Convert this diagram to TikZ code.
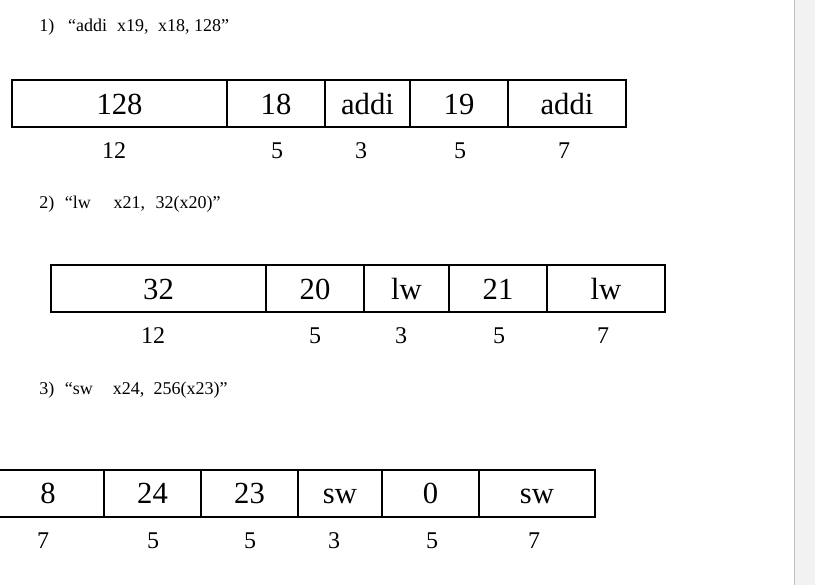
\documentclass[tikz,border=0pt]{standalone}
\usepackage{fontspec}
\setmainfont{Liberation Serif}
\usetikzlibrary{positioning}

\begin{document}
\begin{tikzpicture}[x=0.75pt, y=-0.75pt,
        field/.style={draw, rectangle, line width=1.5pt, inner sep=0pt, outer sep=0pt, minimum height=35.25pt, text height=15.8pt, text depth=0pt, font=\fontsize{23}{27}\selectfont},
        wd/.style={minimum width=#1*0.75pt},
        bits/.style={inner sep=0pt, font=\fontsize{18}{21}\selectfont},
        title/.style={anchor=base west, inner sep=0pt, font=\fontsize{13.5}{16}\selectfont}]
        \useasboundingbox (0,0) rectangle (815,585);
        % Side bar
        \fill[black!5] (794,0) rectangle (815,585);
        \draw[black!25, line width=0.75pt] (794.5,0) -- (794.5,585);

        % 1) addi
        \node (t1) [title] at (39,32) {1)\hspace{10.5pt}“addi\hspace{7.5pt}x19,\hspace{7pt}x18, 128”};
        \node (a1) [field, wd=215, anchor=west] at (12,103.5) {128};
        \node (a2) [field, wd=98, right=0pt of a1] {18};
        \node (a3) [field, wd=85, right=0pt of a2] {addi};
        \node (a4) [field, wd=98, right=0pt of a3] {19};
        \node (a5) [field, wd=118, right=0pt of a4] {addi};
        % bit widths
        \node (a1b) [bits] at (114,150.5) {12};
        \node (a2b) [bits] at (277,150.5) {5};
        \node (a3b) [bits] at (361,150.5) {3};
        \node (a4b) [bits] at (460,150.5) {5};
        \node (a5b) [bits] at (564,150.5) {7};

        % 2) lw
        \node (t2) [title] at (39,209) {2)\hspace{8pt}“lw\hspace{17pt}x21,\hspace{8pt}32(x20)”};
        \node (b1) [field, wd=215, anchor=west] at (51,288.5) {32};
        \node (b2) [field, wd=98, right=0pt of b1] {20};
        \node (b3) [field, wd=85, right=0pt of b2] {lw};
        \node (b4) [field, wd=98, right=0pt of b3] {21};
        \node (b5) [field, wd=118, right=0pt of b4] {lw};
        % bit widths
        \node (b1b) [bits] at (153,336) {12};
        \node (b2b) [bits] at (315,336) {5};
        \node (b3b) [bits] at (401,336) {3};
        \node (b4b) [bits] at (499,336) {5};
        \node (b5b) [bits] at (603,336) {7};

        % 3) sw
        \node (t3) [title] at (39,394) {3)\hspace{8pt}“sw\hspace{15pt}x24,\hspace{7pt}256(x23)”};
        \node (c1) [field, wd=112, anchor=west] at (-8,493) {8};
        \node (c2) [field, wd=97, right=0pt of c1] {24};
        \node (c3) [field, wd=97, right=0pt of c2] {23};
        \node (c4) [field, wd=84, right=0pt of c3] {sw};
        \node (c5) [field, wd=97, right=0pt of c4] {0};
        \node (c6) [field, wd=116, right=0pt of c5] {sw};
        % bit widths
        \node (c1b) [bits] at (43,541) {7};
        \node (c2b) [bits] at (153,541) {5};
        \node (c3b) [bits] at (250,541) {5};
        \node (c4b) [bits] at (334,541) {3};
        \node (c5b) [bits] at (432,541) {5};
        \node (c6b) [bits] at (534,541) {7};
    \end{tikzpicture}
\end{document}
